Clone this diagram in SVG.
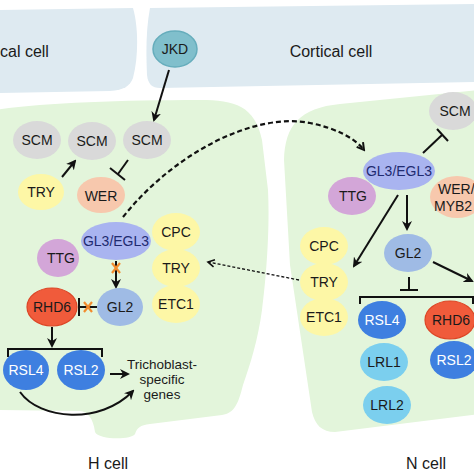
<svg xmlns="http://www.w3.org/2000/svg" width="474" height="474" viewBox="0 0 474 474">
<style>
text{font-family:"Liberation Sans",Arial,sans-serif;font-size:14px;fill:#1a1a1a;text-anchor:middle;dominant-baseline:central}
.lbl{font-size:16px}
.cell{fill:#e3f5db}
.cort{fill:#deeaf1}
.scm{fill:#d9d9d9}
.yel{fill:#fdf7a6}
.wer{fill:#f7c8ad}
.gl3{fill:#a9b4f0}
.ttg{fill:#d3a6d8}
.gl2{fill:#9fbbe5}
.rhd{fill:#f05b3b;stroke:#dc4525;stroke-width:1.2}
.rsl{fill:#3e7fe0}
.lrl{fill:#7bcfee}
.w{fill:#ffffff}
.nv{fill:#1f2b70}
.ln{stroke:#111;stroke-width:2;fill:none}
.dsh{stroke:#111;stroke-width:2.2;fill:none;stroke-dasharray:5,3}
.dsh2{stroke:#111;stroke-width:1.3;fill:none;stroke-dasharray:3,2}
.x{stroke:#f28c2e;stroke-width:2.2}
</style>
<defs>
<marker id="ah" viewBox="0 0 10 10" refX="8" refY="5" markerWidth="5" markerHeight="5" orient="auto" markerUnits="strokeWidth">
<path d="M0,0 L10,5 L0,10 L3,5 z" fill="#111"/>
</marker>
<marker id="ahd" viewBox="0 0 10 10" refX="8" refY="5" markerWidth="4.5" markerHeight="4.5" orient="auto" markerUnits="strokeWidth">
<path d="M1,1 L8,5 L1,9" fill="none" stroke="#111" stroke-width="2"/>
</marker>
<marker id="ahd2" viewBox="0 0 10 10" refX="8" refY="5" markerWidth="7" markerHeight="7" orient="auto" markerUnits="strokeWidth">
<path d="M1,1 L8,5 L1,9" fill="none" stroke="#111" stroke-width="1.8"/>
</marker>
</defs>
<rect width="474" height="474" fill="#ffffff"/>
<g id="background">
<path class="cort" d="M-5,10 L133,8 C138,25 139,55 133,78 C130,86 124,90 110,91 L-5,93 Z"/>
<path class="cort" d="M150,8 L479,4 L479,82 L160,88 C152,88 148,84 147,75 C146,50 146,30 150,8 Z"/>
<path class="cell" d="M-5,110 C40,103 120,100 200,100 C235,100 255,106 262,140 L268,190 C270,230 266,280 262,310 C258,340 250,365 243,385 C238,405 234,413 222,415 L150,424 C140,425 137,428 135,434 C132,440 98,440 95,432 C93,418 88,412 80,411 L-5,410 Z"/>
<path class="cell" d="M479,90 L340,104 C300,108 285,125 284,160 L290,265 L312,412 C315,425 322,432 335,432 L479,414 Z"/>
<text class="lbl" x="0" y="51" style="text-anchor:start">cal cell</text>
<text class="lbl" x="331" y="51">Cortical cell</text>
<text class="lbl" x="108" y="463">H cell</text>
<text class="lbl" x="426" y="463">N cell</text>
</g>
<g id="connectors">
<line class="ln" x1="169" y1="70" x2="154" y2="120" marker-end="url(#ah)"/>
<line class="ln" x1="62" y1="177" x2="75" y2="161" marker-end="url(#ah)"/>
<line class="ln" x1="128" y1="160" x2="118" y2="174"/>
<line class="ln" x1="110" y1="168" x2="125" y2="180"/>
<path class="dsh" d="M123,217 C175,152 255,112 310,123 C335,128 355,138 364,150" marker-end="url(#ahd)"/>
<line class="dsh2" x1="299" y1="280" x2="208" y2="262" marker-end="url(#ahd2)"/>
<line class="ln" x1="116" y1="261" x2="116" y2="287" marker-end="url(#ah)"/>
<line class="x" x1="112" y1="263" x2="120" y2="273"/>
<line class="x" x1="120" y1="263" x2="112" y2="273"/>
<line class="ln" x1="97" y1="307" x2="79" y2="307"/>
<line class="ln" x1="79" y1="298" x2="79" y2="316"/>
<line class="x" x1="84" y1="302" x2="92" y2="312"/>
<line class="x" x1="92" y1="302" x2="84" y2="312"/>
<line class="ln" x1="52" y1="327" x2="52" y2="346" marker-end="url(#ah)"/>
<path class="ln" d="M8,357 L8,349 L102,349 L102,357"/>
<line class="ln" x1="110" y1="374" x2="128" y2="374" marker-end="url(#ah)"/>
<path class="ln" d="M20,392 C40,420 100,425 133,391" marker-end="url(#ah)"/>
<line class="ln" x1="423" y1="153" x2="442" y2="135"/>
<line class="ln" x1="437" y1="129" x2="448" y2="141"/>
<line class="ln" x1="407" y1="195" x2="407" y2="229" marker-end="url(#ah)"/>
<line class="ln" x1="398" y1="195" x2="354" y2="266" marker-end="url(#ah)"/>
<line class="ln" x1="433" y1="262" x2="472" y2="281" marker-end="url(#ah)"/>
<line class="ln" x1="409" y1="277" x2="409" y2="290"/>
<line class="ln" x1="400" y1="290" x2="418" y2="290"/>
<path class="ln" d="M360,304 L360,297 L473,297 L473,304"/>
</g>
<g id="JKD"><ellipse cx="175" cy="49" rx="22" ry="18" fill="#80bfcc" stroke="#66adbc" stroke-width="1.5"/><text x="175" y="49">JKD</text></g>
<g id="H-SCM1"><ellipse class="scm" cx="37" cy="140" rx="24" ry="19"/><text x="37" y="140">SCM</text></g>
<g id="H-SCM2"><ellipse class="scm" cx="92" cy="141" rx="24" ry="19"/><text x="92" y="141">SCM</text></g>
<g id="H-SCM3"><ellipse class="scm" cx="147" cy="140" rx="24" ry="19"/><text x="147" y="140">SCM</text></g>
<g id="H-TRY1"><ellipse class="yel" cx="41" cy="192" rx="23" ry="18"/><text x="41" y="192">TRY</text></g>
<g id="H-WER"><ellipse class="wer" cx="101" cy="195" rx="24" ry="18"/><text x="101" y="196">WER</text></g>
<g id="H-TTG"><ellipse class="ttg" cx="58" cy="258" rx="21" ry="19"/><text x="61" y="258">TTG</text></g>
<g id="H-CPC"><ellipse class="yel" cx="176" cy="232" rx="24" ry="19"/><text x="176" y="232">CPC</text></g>
<g id="H-TRY2"><ellipse class="yel" cx="176" cy="268" rx="24" ry="19"/><text x="176" y="268">TRY</text></g>
<g id="H-ETC1"><ellipse class="yel" cx="176" cy="304" rx="24" ry="19"/><text x="176" y="304">ETC1</text></g>
<g id="H-GL3"><ellipse class="gl3" cx="116" cy="241" rx="35" ry="19"/><text class="nv" x="116" y="241">GL3/EGL3</text></g>
<g id="H-GL2"><ellipse class="gl2" cx="120" cy="307" rx="23" ry="19"/><text x="120" y="307">GL2</text></g>
<g id="H-RHD6"><ellipse class="rhd" cx="52" cy="307" rx="25" ry="19"/><text x="52" y="307">RHD6</text></g>
<g id="H-RSL4"><ellipse class="rsl" cx="26" cy="370" rx="23" ry="20"/><text class="w" x="26" y="370">RSL4</text></g>
<g id="H-RSL2"><ellipse class="rsl" cx="81" cy="370" rx="24" ry="20"/><text class="w" x="81" y="370">RSL2</text></g>
<g id="H-genes"><text x="162" y="364" style="font-size:13.5px">Trichoblast-</text><text x="162" y="379" style="font-size:13.5px">specific</text><text x="162" y="394" style="font-size:13.5px">genes</text></g>
<g id="N-SCM"><ellipse class="scm" cx="453" cy="111" rx="24" ry="19"/><text x="455" y="111">SCM</text></g>
<g id="N-TTG"><ellipse class="ttg" cx="352" cy="196" rx="24" ry="19"/><text x="353" y="196">TTG</text></g>
<g id="N-WER"><ellipse class="wer" cx="457" cy="197" rx="27" ry="21"/><text x="438" y="189" style="text-anchor:start">WER/</text><text x="434" y="206" style="text-anchor:start">MYB2</text></g>
<g id="N-GL3"><ellipse class="gl3" cx="399" cy="171" rx="36" ry="19"/><text class="nv" x="399" y="171">GL3/EGL3</text></g>
<g id="N-CPC"><ellipse class="yel" cx="324" cy="246" rx="24" ry="19"/><text x="324" y="246">CPC</text></g>
<g id="N-TRY"><ellipse class="yel" cx="324" cy="282" rx="24" ry="19"/><text x="324" y="282">TRY</text></g>
<g id="N-ETC1"><ellipse class="yel" cx="324" cy="317" rx="24" ry="19"/><text x="324" y="317">ETC1</text></g>
<g id="N-GL2"><ellipse class="gl2" cx="408" cy="253" rx="24" ry="19"/><text x="408" y="253">GL2</text></g>
<g id="N-RSL4"><ellipse class="rsl" cx="382" cy="320" rx="24" ry="19"/><text class="w" x="382" y="320">RSL4</text></g>
<g id="N-RHD6"><ellipse class="rhd" cx="450" cy="320" rx="25" ry="19"/><text x="451" y="320">RHD6</text></g>
<g id="N-LRL1"><ellipse class="lrl" cx="384" cy="362" rx="24" ry="19"/><text x="384" y="362">LRL1</text></g>
<g id="N-LRL2"><ellipse class="lrl" cx="387" cy="405" rx="24" ry="19"/><text x="387" y="405">LRL2</text></g>
<g id="N-RSL2"><ellipse class="rsl" cx="454" cy="360" rx="24" ry="19"/><text class="w" x="454" y="360">RSL2</text></g>
</svg>
